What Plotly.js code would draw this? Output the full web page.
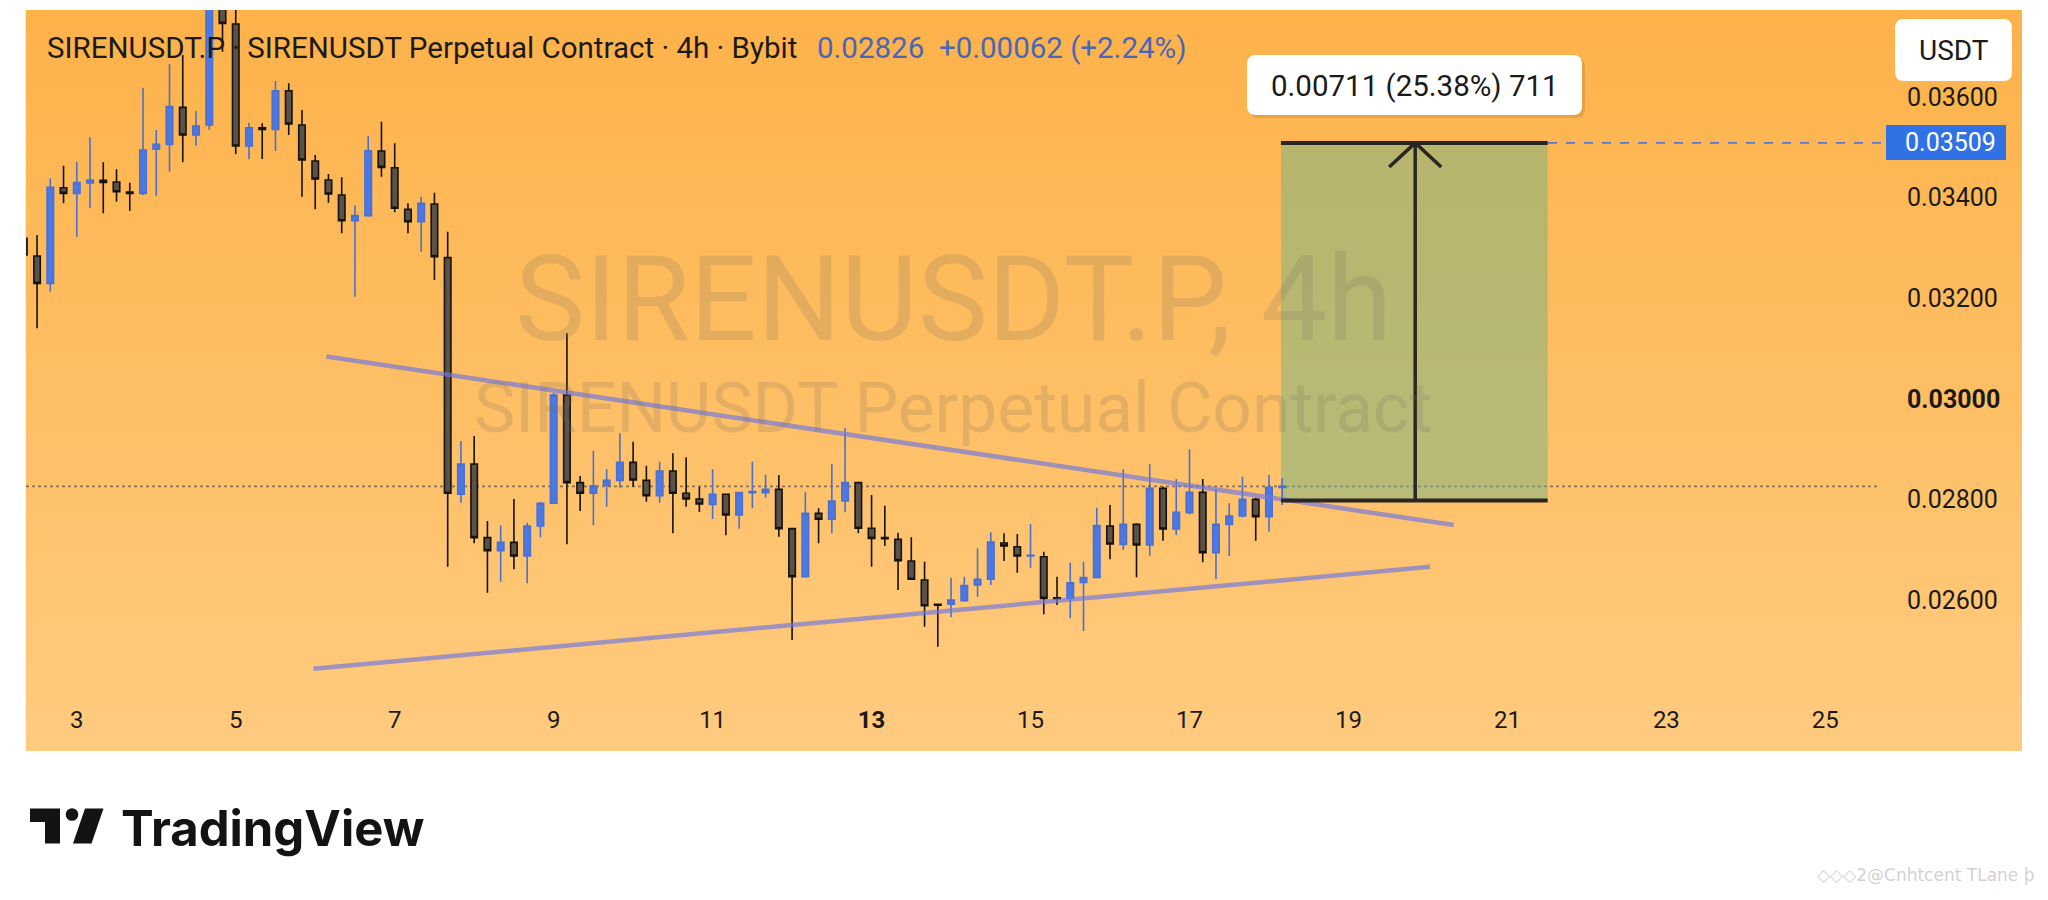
<!DOCTYPE html>
<html>
<head>
<meta charset="utf-8">
<script src="https://cdn.plot.ly/plotly-3.0.1.min.js"></script>
<style>html,body{margin:0;padding:0;background:#fff;}#chart{width:2048px;height:900px;}</style>
</head>
<body>
<div id="chart"></div>
<script>
// ---------- DATA ----------
const firstCandle = '2025-08-02 08:00';   // open time of first 4h candle
const candleHours = 4;
const openP = [0.033192,0.032841,0.032297,0.034199,0.034087,0.034292,0.034345,0.034312,0.034113,0.034087,
0.034962,0.035061,0.035797,0.035247,0.035445,0.038000,0.037453,0.035028,0.035392,0.035359,
0.036128,0.035445,0.034730,0.034352,0.034054,0.033543,0.033643,0.034928,0.034597,0.033769,
0.033523,0.033875,0.032808,0.028103,0.028706,0.027241,0.026983,0.027148,0.026877,0.027473,
0.027924,0.030078,0.028335,0.028123,0.028282,0.028381,0.028739,0.028381,0.028076,0.028567,
0.028123,0.028010,0.027904,0.028103,0.027692,0.028136,0.028136,0.028202,0.027420,0.026466,
0.027725,0.027606,0.027970,0.028335,0.027427,0.027241,0.027208,0.026777,0.026400,0.025916,
0.025916,0.025989,0.026300,0.026413,0.027135,0.027062,0.026877,0.026863,0.026048,0.026035,
0.026353,0.026452,0.027473,0.027108,0.027506,0.027095,0.028222,0.027413,0.027738,0.028142,
0.026943,0.027506,0.027672,0.028003,0.027659,0.028242];
const highP = [0.033358,0.033258,0.034385,0.034637,0.034716,0.035200,0.034703,0.034564,0.034299,0.036188,
0.035346,0.036651,0.036837,0.035724,0.038300,0.038200,0.037760,0.035492,0.035478,0.036320,
0.036274,0.035744,0.034849,0.034471,0.034405,0.033848,0.035227,0.035512,0.035081,0.033888,
0.034021,0.034100,0.033325,0.029163,0.029262,0.027573,0.027486,0.028010,0.027539,0.027950,
0.030124,0.031304,0.028467,0.028971,0.028600,0.029315,0.029150,0.028673,0.028752,0.028918,
0.028838,0.028249,0.028600,0.028110,0.028156,0.028752,0.028494,0.028487,0.027440,0.028142,
0.027824,0.028706,0.029415,0.028355,0.028089,0.027877,0.027341,0.027248,0.026764,0.025922,
0.026446,0.026466,0.027029,0.027347,0.027328,0.027314,0.027513,0.026963,0.026466,0.026744,
0.026764,0.027838,0.027891,0.028600,0.027526,0.028699,0.028255,0.028407,0.028997,0.028407,
0.028209,0.027924,0.028454,0.028036,0.028487,0.028421];
const lowP = [0.032761,0.031403,0.032132,0.033888,0.033225,0.033789,0.033689,0.033921,0.033742,0.034054,
0.034034,0.034518,0.034703,0.035034,0.035346,0.036903,0.034869,0.034763,0.034769,0.034928,
0.035247,0.034021,0.033769,0.033901,0.033291,0.032032,0.033623,0.034418,0.033709,0.033291,
0.032927,0.032364,0.026665,0.027937,0.027128,0.026148,0.026366,0.026612,0.026333,0.027248,
0.027910,0.027109,0.027771,0.027486,0.027858,0.028235,0.028255,0.027957,0.027937,0.027327,
0.027858,0.027751,0.027612,0.027288,0.027420,0.027824,0.028036,0.027261,0.025207,0.026450,
0.027128,0.027327,0.027745,0.027327,0.026665,0.027076,0.026201,0.026400,0.025472,0.025074,
0.025657,0.025969,0.026068,0.026300,0.026777,0.026545,0.026645,0.025717,0.025902,0.025637,
0.025386,0.026440,0.026810,0.026996,0.026452,0.026883,0.027181,0.027294,0.027705,0.026751,
0.026413,0.026877,0.027645,0.027181,0.027360,0.027891];
const closeP = [0.032861,0.032297,0.034206,0.034087,0.034299,0.034352,0.034305,0.034120,0.034087,0.034948,
0.035061,0.035810,0.035247,0.035425,0.038000,0.037467,0.035028,0.035392,0.035359,0.036128,
0.035465,0.034749,0.034372,0.034074,0.033543,0.033643,0.034935,0.034604,0.033789,0.033523,
0.033888,0.032828,0.028123,0.028706,0.027241,0.026983,0.027148,0.026877,0.027473,0.027924,
0.030078,0.028335,0.028123,0.028268,0.028381,0.028739,0.028388,0.028076,0.028567,0.028123,
0.028010,0.027911,0.028103,0.027692,0.028136,0.028156,0.028202,0.027420,0.026466,0.027725,
0.027606,0.027970,0.028335,0.027427,0.027228,0.027221,0.026784,0.026413,0.025889,0.025900,
0.026002,0.026287,0.026413,0.027155,0.027075,0.026877,0.026890,0.026035,0.026028,0.026346,
0.026446,0.027480,0.027115,0.027506,0.027095,0.028222,0.027413,0.027745,0.028142,0.026943,
0.027506,0.027672,0.028003,0.027659,0.028242,0.028260];

const xTickDates = ['2025-08-03','2025-08-05','2025-08-07','2025-08-09','2025-08-11','2025-08-13','2025-08-15','2025-08-17','2025-08-19','2025-08-21','2025-08-23','2025-08-25'];
const xTickText  = ['3','5','7','9','11','<b>13</b>','15','17','19','21','23','25'];
const yTickVals  = [0.026,0.028,0.030,0.032,0.034,0.036];
const yTickText  = ['0.02600','0.02800','<b>0.03000</b>','0.03200','0.03400','0.03600'];

// drawn trendlines (time in days of August, price)
const upperLineDays = [6.142, 20.323];
const upperLinePrices = [0.030843, 0.027493];
const lowerLineDays = [5.977, 20.026];
const lowerLinePrices = [0.024636, 0.026662];
// price projection tool
const projStartDay = 18.151, projEndDay = 21.507, projArrowDay = 19.840;
const projLow = 0.02798, projHigh = 0.03509;
const lastPrice = 0.02826;
const xRangeDays = [2.361, 25.688];
const yRange = [0.024133, 0.037732];

// ---------- helpers ----------
function pad(n){return (n<10?'0':'')+n;}
function dayToStr(d){ // day of August 2025 (fractional) -> date string
  const ms = Date.UTC(2025,7,1) + (d-1)*86400000;
  const t = new Date(Math.round(ms/1000)*1000);
  return t.getUTCFullYear()+'-'+pad(t.getUTCMonth()+1)+'-'+pad(t.getUTCDate())+' '+pad(t.getUTCHours())+':'+pad(t.getUTCMinutes())+':'+pad(t.getUTCSeconds());
}
const t0 = Date.parse(firstCandle.replace(' ','T')+':00Z');
const times = openP.map((_,i)=>{const t=new Date(t0+i*candleHours*3600000);return t.getUTCFullYear()+'-'+pad(t.getUTCMonth()+1)+'-'+pad(t.getUTCDate())+' '+pad(t.getUTCHours())+':00';});

const W=2048,H=900, L=26, R=1880, T=10, B=694;
const px = x => (x-L)/(R-L);
const py = y => (B-y)/(B-T);
function roundRect(x0,y0,x1,y1,r){
  const rx=r/(R-L), ry=r/(B-T);
  const X0=px(x0),X1=px(x1),Y0=py(y0),Y1=py(y1); // Y0 top (larger)
  return `M${X0+rx},${Y0} L${X1-rx},${Y0} Q${X1},${Y0} ${X1},${Y0-ry} L${X1},${Y1+ry} Q${X1},${Y1} ${X1-rx},${Y1} L${X0+rx},${Y1} Q${X0},${Y1} ${X0},${Y1+ry} L${X0},${Y0-ry} Q${X0},${Y0} ${X0+rx},${Y0} Z`;
}
function poly(pts){return 'M'+pts.map(p=>px(p[0])+','+py(p[1])).join(' L')+' Z';}

const bgSvg = '<svg xmlns="http://www.w3.org/2000/svg" viewBox="0 0 100 100" preserveAspectRatio="none" width="100" height="100"><defs><linearGradient id="g" x1="0" y1="0" x2="0" y2="1"><stop offset="0" stop-color="#FDB24A"/><stop offset="0.5" stop-color="#FEBE63"/><stop offset="1" stop-color="#FFCB80"/></linearGradient></defs><rect x="0" y="0" width="100" height="100" fill="url(#g)"/></svg>';

// ---------- traces ----------
const traces = [
  {type:'candlestick', x:times, open:openP, high:highP, low:lowP, close:closeP,
   increasing:{line:{color:'#4a70d4',width:1.6}, fillcolor:'#4b78e3'},
   decreasing:{line:{color:'#151210',width:1.6}, fillcolor:'#5b5247'},
   whiskerwidth:0, hoverinfo:'skip', showlegend:false},
  {type:'scatter', mode:'lines', x:upperLineDays.map(dayToStr), y:upperLinePrices,
   line:{color:'rgba(110,118,228,0.66)', width:4.5}, hoverinfo:'skip', showlegend:false},
  {type:'scatter', mode:'lines', x:lowerLineDays.map(dayToStr), y:lowerLinePrices,
   line:{color:'rgba(110,118,228,0.66)', width:4.5}, hoverinfo:'skip', showlegend:false}
];

const dark='#2a2622';
const headDX = 0.327, headDY = 0.00048;
const shapes = [
  // projection box
  {type:'rect', xref:'x', yref:'y', x0:dayToStr(projStartDay), x1:dayToStr(projEndDay), y0:projLow, y1:projHigh,
   fillcolor:'rgba(113,179,134,0.5)', line:{width:0}, layer:'below'},
  {type:'line', xref:'x', yref:'y', x0:dayToStr(projStartDay), x1:dayToStr(projEndDay), y0:projHigh, y1:projHigh, line:{color:dark,width:4}},
  {type:'line', xref:'x', yref:'y', x0:dayToStr(projStartDay), x1:dayToStr(projEndDay), y0:projLow, y1:projLow, line:{color:dark,width:4}},
  {type:'line', xref:'x', yref:'y', x0:dayToStr(projArrowDay), x1:dayToStr(projArrowDay), y0:projLow, y1:projHigh, line:{color:dark,width:3.5}},
  {type:'line', xref:'x', yref:'y', x0:dayToStr(projArrowDay-headDX), x1:dayToStr(projArrowDay), y0:projHigh-headDY, y1:projHigh, line:{color:dark,width:3.5}},
  {type:'line', xref:'x', yref:'y', x0:dayToStr(projArrowDay+headDX), x1:dayToStr(projArrowDay), y0:projHigh-headDY, y1:projHigh, line:{color:dark,width:3.5}},
  // current price dotted line
  {type:'line', xref:'paper', yref:'y', x0:0, x1:1, y0:lastPrice, y1:lastPrice, line:{color:'rgba(80,70,60,0.65)',width:1.6,dash:'dot'}, layer:'below'},
  // dashed target line to price scale
  {type:'line', xref:'paper', yref:'y', x0:px(1548), x1:px(1886), y0:projHigh, y1:projHigh, line:{color:'#5b78c8',width:1.6,dash:'dash'}},
  // target price tag
  {type:'rect', xref:'paper', yref:'paper', x0:px(1886), x1:px(2006), y0:py(160), y1:py(125), fillcolor:'#3072e6', line:{width:0}},
  // USDT box
  {type:'path', xref:'paper', yref:'paper', path:roundRect(1895,19,2012,81,9), fillcolor:'#ffffff', line:{width:0}},
  // measurement label box
  {type:'path', xref:'paper', yref:'paper', path:roundRect(1250,58,1585,118,9), fillcolor:'rgba(120,80,20,0.18)', line:{width:0}},
  {type:'path', xref:'paper', yref:'paper', path:roundRect(1247,55,1582,115,9), fillcolor:'#ffffff', line:{width:0}},
  // TradingView logo
  {type:'path', xref:'paper', yref:'paper', path:poly([[30,808.5],[60,808.5],[60,843.5],[45,843.5],[45,822],[30,822]]), fillcolor:'#131313', line:{width:0}},
  {type:'circle', xref:'paper', yref:'paper', x0:px(65.7), x1:px(78.3), y0:py(820.8), y1:py(808.2), fillcolor:'#131313', line:{width:0}},
  {type:'path', xref:'paper', yref:'paper', path:poly([[85,808.5],[103.5,808.5],[91.5,843.5],[73,843.5]]), fillcolor:'#131313', line:{width:0}}
];

const ann = (text,x,y,opt)=>Object.assign({text:text, xref:'paper', yref:'paper', x:px(x), y:py(y), showarrow:false,
  xanchor:'left', yanchor:'middle', font:{family:'Roboto', size:25, color:'#1c1a18'}}, opt||{});

const annotations = [
  ann('SIRENUSDT.P, 4h', 953, 300, {xanchor:'center', font:{family:'Roboto', size:118, color:'rgba(120,110,95,0.2)'}}),
  ann('SIRENUSDT Perpetual Contract', 953, 409, {xanchor:'center', font:{family:'Roboto', size:69.5, color:'rgba(120,110,95,0.2)'}}),
  ann('SIRENUSDT.P · SIRENUSDT Perpetual Contract · 4h · Bybit', 45, 48, {font:{family:'Roboto', size:29.5, color:'#1c1a18'}}),
  ann('0.02826\u00a0 +0.00062 (+2.24%)', 815, 48, {font:{family:'Roboto', size:29.5, color:'#4a66b8'}}),
  ann('USDT', 1953.5, 50, {xanchor:'center', font:{family:'Roboto', size:28, color:'#1c1a18'}}),
  ann('0.00711 (25.38%) 711', 1415, 86, {xanchor:'center', font:{family:'Roboto', size:29.5, color:'#1c1a18'}}),
  ann('0.03509', 1903, 142.5, {font:{family:'Roboto', size:25, color:'#ffffff'}}),
  ann('TradingView', 119, 828, {font:{family:'Inter', size:49, color:'#131313', weight:700}}),
  ann('◇◇◇2@Cnhtcent TLane þ', 2036, 875, {xanchor:'right', font:{family:'DejaVu Sans', size:17, color:'rgba(170,170,170,0.55)'}})
];

const layout = {
  width:W, height:H,
  margin:{l:L, r:W-R, t:T, b:H-B, pad:0},
  paper_bgcolor:'#ffffff', plot_bgcolor:'rgba(0,0,0,0)',
  showlegend:false,
  images:[{source:'data:image/svg+xml;utf8,'+encodeURIComponent(bgSvg), xref:'paper', yref:'paper',
    x:px(25.5), y:py(10), sizex:px(2022)-px(25.5), sizey:py(10)-py(751), xanchor:'left', yanchor:'top',
    sizing:'stretch', layer:'below'}],
  xaxis:{type:'date', range:[dayToStr(xRangeDays[0]), dayToStr(xRangeDays[1])], rangeslider:{visible:false},
    tickvals:xTickDates, ticktext:xTickText, showgrid:false, zeroline:false, showline:false,
    ticks:'outside', ticklen:4, tickcolor:'rgba(0,0,0,0)',
    tickfont:{family:'Roboto', size:24, color:'#1c1a18'}, fixedrange:true},
  yaxis:{side:'right', range:yRange, tickvals:yTickVals, ticktext:yTickText, showgrid:false, zeroline:false, showline:false,
    ticks:'outside', ticklen:21, tickcolor:'rgba(0,0,0,0)',
    tickfont:{family:'Roboto', size:25, color:'#1c1a18'}, fixedrange:true},
  shapes:shapes, annotations:annotations,
  font:{family:'Roboto'}
};

Plotly.newPlot('chart', traces, layout, {staticPlot:true, displayModeBar:false});
</script>
</body>
</html>
